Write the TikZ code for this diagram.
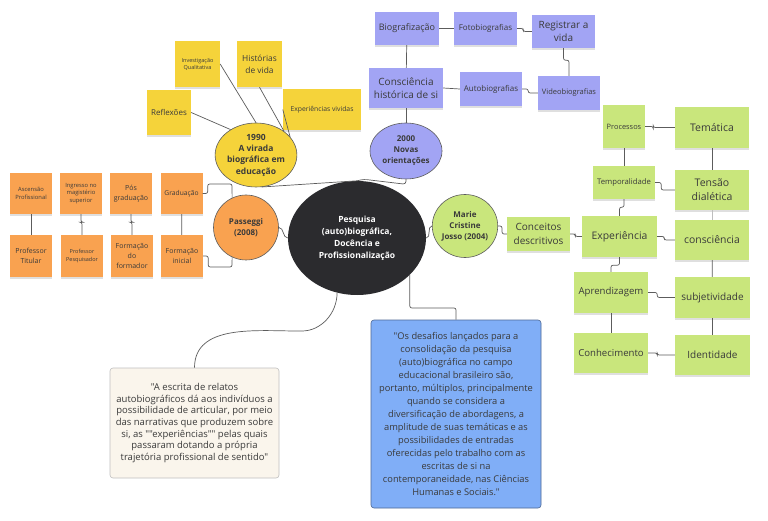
\documentclass[tikz,border=0pt]{standalone}
\usepackage{fontspec}
\setmainfont{Open Sans}[Ligatures=TeXOff]
\usetikzlibrary{shapes.geometric,shadows}
\definecolor{stickyyellow}{HTML}{F5D33A}
\definecolor{stickypurple}{HTML}{A2A4F4}
\definecolor{stickygreen}{HTML}{C9E67C}
\definecolor{stickyorange}{HTML}{F9A250}
\definecolor{notebeige}{HTML}{FAF5EC}
\definecolor{noteblue}{HTML}{80AEF7}
\definecolor{centerdark}{HTML}{2B2B2E}
\definecolor{inktext}{HTML}{3A3A3A}
\definecolor{linegray}{HTML}{5C5C5C}
\newcommand{\fsz}[2]{\fontsize{#1}{#2}\selectfont}

\begin{document}
\begin{tikzpicture}[x=1pt,y=-1pt,
    sz/.style 2 args={minimum width=#1pt,minimum height=#2pt},
    sticky/.style={draw=none, align=center, inner sep=1pt, text=inktext,
        drop shadow={shadow xshift=0pt,shadow yshift=-2pt,opacity=.25}},
    ynote/.style={sticky, fill=stickyyellow},
    pnote/.style={sticky, fill=stickypurple},
    gnote/.style={sticky, fill=stickygreen},
    onote/.style={sticky, fill=stickyorange},
    bubble/.style={ellipse, draw=linegray, line width=0.6pt, inner sep=0pt,
        align=center, text=inktext},
    quote/.style={draw, rounded corners=3pt, line width=0.6pt, align=center, inner sep=2pt},
    conn/.style={draw=linegray, line width=0.7pt, rounded corners=2pt}]

    \useasboundingbox (0,0) rectangle (768,521);
    \fill[white] (0,0) rectangle (768,521);

    \node[ynote, sz={45}{46}, font=\fsz{5.5}{7}] (inv) at (197.5,64) {Investigação\\Qualitativa};
    \node[ynote, sz={45}{46}, font=\fsz{8.4}{12}] (hist) at (259.5,64) {Histórias\\de vida};
    \node[ynote, sz={44}{45}, font=\fsz{8}{10}] (refl) at (169,112.5) {Reflexões};
    \node[ynote, sz={78}{41}, font=\fsz{6.8}{9}] (expv) at (322,109.5) {Experiências vividas};
    \node[bubble, fill=stickyyellow, sz={70}{64}, font=\fsz{8.5}{11.3}\bfseries] (y1990) at (256,155) {1990\\A virada\\biográfica em\\educação};

    \node[pnote, sz={64}{33}, font=\fsz{9}{11}] (bio) at (407,28.5) {Biografização};
    \node[pnote, sz={63}{33}, font=\fsz{8}{10}] (foto) at (485.5,28.5) {Fotobiografias};
    \node[pnote, sz={63}{33}, font=\fsz{10}{13}] (reg) at (563.5,31.5) {Registrar a\\vida};
    \node[pnote, sz={74}{40}, font=\fsz{10}{13}] (cons) at (406,88) {Consciência\\histórica de si};
    \node[pnote, sz={62}{34}, font=\fsz{8}{10}] (auto) at (491,89) {Autobiografias};
    \node[pnote, sz={62}{34}, font=\fsz{7.5}{10}] (video) at (569,93) {Videobiografias};
    \node[bubble, fill=stickypurple, sz={72}{56}, font=\fsz{8}{11}\bfseries] (y2000) at (406,151) {2000\\Novas\\orientações};

    \node[gnote, sz={42}{43}, font=\fsz{7.4}{9}] (proc) at (624,126.5) {Processos};
    \node[gnote, sz={74}{41}, font=\fsz{10.5}{13}] (tema) at (712,127.5) {Temática};
    \node[gnote, sz={62}{33}, font=\fsz{7.7}{10}] (temp) at (624,182.5) {Temporalidade};
    \node[gnote, sz={74}{40}, font=\fsz{10.5}{14}] (tens) at (712,190) {Tensão\\dialética};
    \node[bubble, fill=stickygreen, sz={65}{63}, font=\fsz{8}{11}\bfseries] (marie) at (465,226) {Marie\\Cristine\\Josso (2004)};
    \node[gnote, sz={63}{34}, font=\fsz{10}{14}] (conc) at (538.5,234) {Conceitos\\descritivos};
    \node[gnote, sz={75}{41}, font=\fsz{10.4}{13}] (exp) at (619.5,236.5) {Experiência};
    \node[gnote, sz={74}{40}, font=\fsz{10.4}{13}] (consc) at (712,240) {consciência};
    \node[gnote, sz={74}{41}, font=\fsz{9.6}{12}] (apr) at (611,292.5) {Aprendizagem};
    \node[gnote, sz={75}{41}, font=\fsz{10}{13}] (subj) at (712.5,297.5) {subjetividade};
    \node[gnote, sz={74}{40}, font=\fsz{9.6}{12}] (conh) at (611,353) {Conhecimento};
    \node[gnote, sz={75}{40}, font=\fsz{10}{13}] (ident) at (712.5,355) {Identidade};

    \node[onote, sz={42}{41}, font=\fsz{5.8}{8}] (asc) at (31,193.5) {Ascensão\\Profissional};
    \node[onote, sz={42}{41}, font=\fsz{5.8}{7.5}] (ingr) at (81,193.5) {Ingresso no\\magistério\\superior};
    \node[onote, sz={42}{41}, font=\fsz{7}{9.5}] (pos) at (131,193.5) {Pós\\graduação};
    \node[onote, sz={42}{41}, font=\fsz{6.7}{9}] (grad) at (181.5,193.5) {Graduação};
    \node[onote, sz={42}{42}, font=\fsz{7}{10}] (ptit) at (31,256) {Professor\\Titular};
    \node[onote, sz={42}{42}, font=\fsz{5.5}{8}] (ppesq) at (82,256) {Professor\\Pesquisador};
    \node[onote, sz={42}{42}, font=\fsz{7}{10}] (ffor) at (132,256) {Formação\\do\\formador};
    \node[onote, sz={42}{42}, font=\fsz{7}{10}] (finic) at (182,256) {Formação\\inicial};
    \node[bubble, fill=stickyorange, sz={65}{65}, font=\fsz{8}{11}\bfseries] (pas) at (246,227.5) {Passeggi\\(2008)};

    \node[ellipse, fill=centerdark, text=white, sz={138}{114}, inner sep=0pt, align=center,
        font=\fsz{8.5}{12}\bfseries] (c) at (357,238) {Pesquisa\\(auto)biográfica,\\Docência e\\Profissionalização};

    \node[quote, draw=black!25, fill=notebeige, text=inktext, sz={169}{110}, font=\fsz{9.5}{11.7}] (q1) at (194.5,423)
        {"A escrita de relatos\\autobiográficos dá aos indivíduos a\\possibilidade de articular, por meio\\das narrativas que produzem sobre\\si, as ""experiências"" pelas quais\\passaram dotando a própria\\trajetória profissional de sentido"};
    \node[quote, draw=noteblue!60!black, fill=noteblue, text=inktext, sz={170}{188}, font=\fsz{9.3}{13}] (q2) at (456,414)
        {"Os desafios lançados para a\\consolidação da pesquisa\\(auto)biográfica no campo\\educacional brasileiro são,\\portanto, múltiplos, principalmente\\quando se considera a\\diversificação de abordagens, a\\amplitude de suas temáticas e as\\possibilidades de entradas\\oferecidas pelo trabalho com as\\escritas de si na\\contemporaneidade, nas Ciências\\Humanas e Sociais."};

    \draw[conn] (inv.east) -- (y1990.north);
    \draw[conn] (hist.south) -- (y1990.40);
    \draw[conn] (refl.east) -- (y1990.135);
    \draw[conn] (expv.west) -- (y1990.28);
    \draw[conn] (y1990.-80) -- (c.north);

    \draw[conn] (bio.east) -- (foto.west);
    \draw[conn] (foto.east) -- ++(6,0) |- (reg.west);
    \draw[conn] (reg.south) -- ++(0,12) -| (video.north);
    \draw[conn] (bio) -- (cons);
    \draw[conn] (cons.east) -- (auto.west);
    \draw[conn] (auto.east) -- ++(6,0) |- (video.west);
    \draw[conn] (cons) -- (y2000);
    \draw[conn, rounded corners=3pt] (y2000.south) -- ++(0,5) -- ++(-42,-5) -- (c.north);

    \draw[conn] (proc.east) -- ++(8,0) |- (tema.west);
    \draw[conn] (proc) -- (temp);
    \draw[conn] (tema) -- (tens);
    \draw[conn] (temp.east) -- ++(6,0) |- (tens.west);
    \draw[conn] (temp.south) -- ++(0,8) -| (exp.north);
    \draw[conn, draw=linegray!40] (tens) -- (consc);
    \draw[conn] (marie.east) -- ++(4,0) |- (conc.west);
    \draw[conn] (conc.east) -- ++(5,0) |- (exp.west);
    \draw[conn] (exp.east) -- ++(7,0) |- (consc.west);
    \draw[conn] (exp.south) -- ++(0,8) -| (apr.north);
    \draw[conn] (consc) -- (subj);
    \draw[conn] (apr.east) -- ++(9,0) |- (subj.west);
    \draw[conn] (apr) -- (conh);
    \draw[conn] (subj) -- (ident);
    \draw[conn] (conh.east) -- ++(9,0) |- (ident.west);

    \draw[conn] (asc) -- (ptit);
    \draw[conn] (ingr.south) -- ++(0,8) -| (ppesq.north);
    \draw[conn] (pos.south) -- ++(0,8) -| (ffor.north);
    \draw[conn] (grad) -- (finic);
    \draw[conn] (grad.east) -- ++(5,0) |- (232,184) -- (pas.115);
    \draw[conn] (finic.east) -- ++(5,0) |- (232,267) -- (pas.245);
    \draw[conn] (pas.east) to[out=0,in=180] (c.west);
    \draw[conn] (marie.west) to[out=180,in=0] (c.east);

    \draw[conn] (c.-35) -- ++(0,33) -| (q2.north);
    \draw[conn] (q1.north) to[out=90,in=180] (300,331) to[out=0,in=-90] (c.250);
\end{tikzpicture}
\end{document}
